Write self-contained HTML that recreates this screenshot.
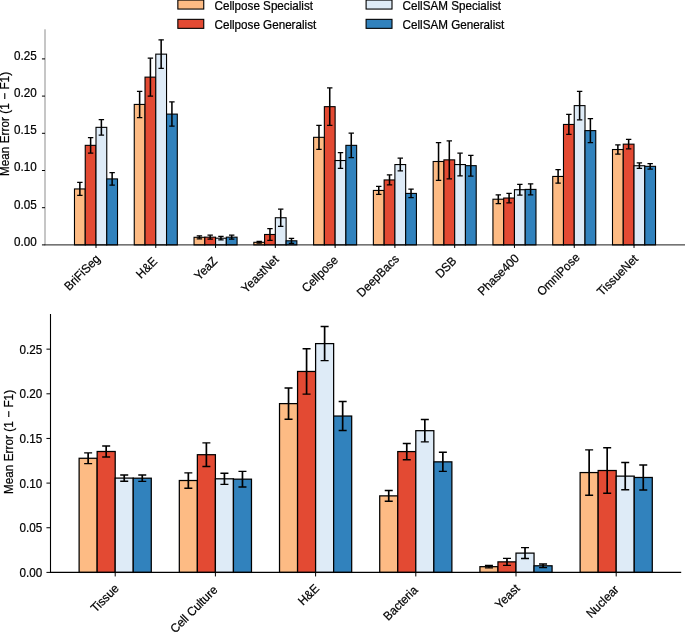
<!DOCTYPE html>
<html><head><meta charset="utf-8"><title>Mean Error</title>
<style>
html,body{margin:0;padding:0;background:#fff;}
svg{display:block;}
text{font-family:"Liberation Sans",sans-serif;font-size:11.67px;fill:#000;stroke:#000;stroke-width:0.22px;}
</style></head><body>
<svg width="685" height="632" viewBox="0 0 685 632">
<rect x="0" y="0" width="685" height="632" fill="#fff"/>
<rect x="74.48" y="188.95" width="10.76" height="55.95" fill="#fdbb84" stroke="#000" stroke-width="1.1"/>
<rect x="85.24" y="145.35" width="10.76" height="99.55" fill="#e34a33" stroke="#000" stroke-width="1.1"/>
<rect x="96.00" y="127.35" width="10.76" height="117.55" fill="#deebf7" stroke="#000" stroke-width="1.1"/>
<rect x="106.76" y="178.91" width="10.76" height="65.99" fill="#3182bd" stroke="#000" stroke-width="1.1"/>
<rect x="134.26" y="104.43" width="10.76" height="140.47" fill="#fdbb84" stroke="#000" stroke-width="1.1"/>
<rect x="145.02" y="77.13" width="10.76" height="167.77" fill="#e34a33" stroke="#000" stroke-width="1.1"/>
<rect x="155.78" y="54.14" width="10.76" height="190.76" fill="#deebf7" stroke="#000" stroke-width="1.1"/>
<rect x="166.54" y="114.10" width="10.76" height="130.80" fill="#3182bd" stroke="#000" stroke-width="1.1"/>
<rect x="194.04" y="237.31" width="10.76" height="7.59" fill="#fdbb84" stroke="#000" stroke-width="1.1"/>
<rect x="204.80" y="237.16" width="10.76" height="7.74" fill="#e34a33" stroke="#000" stroke-width="1.1"/>
<rect x="215.56" y="238.20" width="10.76" height="6.70" fill="#deebf7" stroke="#000" stroke-width="1.1"/>
<rect x="226.32" y="237.16" width="10.76" height="7.74" fill="#3182bd" stroke="#000" stroke-width="1.1"/>
<rect x="253.82" y="242.30" width="10.76" height="2.60" fill="#fdbb84" stroke="#000" stroke-width="1.1"/>
<rect x="264.58" y="234.48" width="10.76" height="10.42" fill="#e34a33" stroke="#000" stroke-width="1.1"/>
<rect x="275.34" y="217.74" width="10.76" height="27.16" fill="#deebf7" stroke="#000" stroke-width="1.1"/>
<rect x="286.10" y="240.81" width="10.76" height="4.09" fill="#3182bd" stroke="#000" stroke-width="1.1"/>
<rect x="313.60" y="137.32" width="10.76" height="107.58" fill="#fdbb84" stroke="#000" stroke-width="1.1"/>
<rect x="324.36" y="106.66" width="10.76" height="138.24" fill="#e34a33" stroke="#000" stroke-width="1.1"/>
<rect x="335.12" y="160.53" width="10.76" height="84.37" fill="#deebf7" stroke="#000" stroke-width="1.1"/>
<rect x="345.88" y="145.35" width="10.76" height="99.55" fill="#3182bd" stroke="#000" stroke-width="1.1"/>
<rect x="373.38" y="190.44" width="10.76" height="54.46" fill="#fdbb84" stroke="#000" stroke-width="1.1"/>
<rect x="384.14" y="179.95" width="10.76" height="64.95" fill="#e34a33" stroke="#000" stroke-width="1.1"/>
<rect x="394.90" y="164.55" width="10.76" height="80.35" fill="#deebf7" stroke="#000" stroke-width="1.1"/>
<rect x="405.66" y="193.42" width="10.76" height="51.48" fill="#3182bd" stroke="#000" stroke-width="1.1"/>
<rect x="433.16" y="161.50" width="10.76" height="83.40" fill="#fdbb84" stroke="#000" stroke-width="1.1"/>
<rect x="443.92" y="159.86" width="10.76" height="85.04" fill="#e34a33" stroke="#000" stroke-width="1.1"/>
<rect x="454.68" y="164.55" width="10.76" height="80.35" fill="#deebf7" stroke="#000" stroke-width="1.1"/>
<rect x="465.44" y="165.66" width="10.76" height="79.24" fill="#3182bd" stroke="#000" stroke-width="1.1"/>
<rect x="492.94" y="199.22" width="10.76" height="45.68" fill="#fdbb84" stroke="#000" stroke-width="1.1"/>
<rect x="503.70" y="198.03" width="10.76" height="46.87" fill="#e34a33" stroke="#000" stroke-width="1.1"/>
<rect x="514.46" y="189.70" width="10.76" height="55.20" fill="#deebf7" stroke="#000" stroke-width="1.1"/>
<rect x="525.22" y="189.40" width="10.76" height="55.50" fill="#3182bd" stroke="#000" stroke-width="1.1"/>
<rect x="552.72" y="176.45" width="10.76" height="68.45" fill="#fdbb84" stroke="#000" stroke-width="1.1"/>
<rect x="563.48" y="124.45" width="10.76" height="120.45" fill="#e34a33" stroke="#000" stroke-width="1.1"/>
<rect x="574.24" y="105.62" width="10.76" height="139.28" fill="#deebf7" stroke="#000" stroke-width="1.1"/>
<rect x="585.00" y="130.62" width="10.76" height="114.28" fill="#3182bd" stroke="#000" stroke-width="1.1"/>
<rect x="612.50" y="149.52" width="10.76" height="95.38" fill="#fdbb84" stroke="#000" stroke-width="1.1"/>
<rect x="623.26" y="144.16" width="10.76" height="100.74" fill="#e34a33" stroke="#000" stroke-width="1.1"/>
<rect x="634.02" y="165.74" width="10.76" height="79.16" fill="#deebf7" stroke="#000" stroke-width="1.1"/>
<rect x="644.78" y="166.33" width="10.76" height="78.57" fill="#3182bd" stroke="#000" stroke-width="1.1"/>
<path d="M79.86 182.48V195.42" stroke="#000" stroke-width="1.55" fill="none"/>
<path d="M77.16 182.48H82.56M77.16 195.42H82.56" stroke="#000" stroke-width="1.25" fill="none"/>
<path d="M90.62 137.69V153.02" stroke="#000" stroke-width="1.55" fill="none"/>
<path d="M87.92 137.69H93.32M87.92 153.02H93.32" stroke="#000" stroke-width="1.25" fill="none"/>
<path d="M101.38 119.68V135.01" stroke="#000" stroke-width="1.55" fill="none"/>
<path d="M98.68 119.68H104.08M98.68 135.01H104.08" stroke="#000" stroke-width="1.25" fill="none"/>
<path d="M112.14 172.58V185.23" stroke="#000" stroke-width="1.55" fill="none"/>
<path d="M109.44 172.58H114.84M109.44 185.23H114.84" stroke="#000" stroke-width="1.25" fill="none"/>
<path d="M139.64 91.26V117.60" stroke="#000" stroke-width="1.55" fill="none"/>
<path d="M136.94 91.26H142.34M136.94 117.60H142.34" stroke="#000" stroke-width="1.25" fill="none"/>
<path d="M150.40 58.16V96.10" stroke="#000" stroke-width="1.55" fill="none"/>
<path d="M147.70 58.16H153.10M147.70 96.10H153.10" stroke="#000" stroke-width="1.25" fill="none"/>
<path d="M161.16 39.85V68.42" stroke="#000" stroke-width="1.55" fill="none"/>
<path d="M158.46 39.85H163.86M158.46 68.42H163.86" stroke="#000" stroke-width="1.25" fill="none"/>
<path d="M171.92 101.98V126.23" stroke="#000" stroke-width="1.55" fill="none"/>
<path d="M169.22 101.98H174.62M169.22 126.23H174.62" stroke="#000" stroke-width="1.25" fill="none"/>
<path d="M199.42 235.82V238.80" stroke="#000" stroke-width="1.55" fill="none"/>
<path d="M196.72 235.82H202.12M196.72 238.80H202.12" stroke="#000" stroke-width="1.25" fill="none"/>
<path d="M210.18 235.23V239.10" stroke="#000" stroke-width="1.55" fill="none"/>
<path d="M207.48 235.23H212.88M207.48 239.10H212.88" stroke="#000" stroke-width="1.25" fill="none"/>
<path d="M220.94 236.42V239.99" stroke="#000" stroke-width="1.55" fill="none"/>
<path d="M218.24 236.42H223.64M218.24 239.99H223.64" stroke="#000" stroke-width="1.25" fill="none"/>
<path d="M231.70 235.15V239.17" stroke="#000" stroke-width="1.55" fill="none"/>
<path d="M229.00 235.15H234.40M229.00 239.17H234.40" stroke="#000" stroke-width="1.25" fill="none"/>
<path d="M259.20 241.48V243.11" stroke="#000" stroke-width="1.55" fill="none"/>
<path d="M256.50 241.48H261.90M256.50 243.11H261.90" stroke="#000" stroke-width="1.25" fill="none"/>
<path d="M269.96 228.61V240.36" stroke="#000" stroke-width="1.55" fill="none"/>
<path d="M267.26 228.61H272.66M267.26 240.36H272.66" stroke="#000" stroke-width="1.25" fill="none"/>
<path d="M280.72 209.19V226.30" stroke="#000" stroke-width="1.55" fill="none"/>
<path d="M278.02 209.19H283.42M278.02 226.30H283.42" stroke="#000" stroke-width="1.25" fill="none"/>
<path d="M291.48 238.28V243.34" stroke="#000" stroke-width="1.55" fill="none"/>
<path d="M288.78 238.28H294.18M288.78 243.34H294.18" stroke="#000" stroke-width="1.25" fill="none"/>
<path d="M318.98 125.26V149.37" stroke="#000" stroke-width="1.55" fill="none"/>
<path d="M316.28 125.26H321.68M316.28 149.37H321.68" stroke="#000" stroke-width="1.25" fill="none"/>
<path d="M329.74 87.99V125.34" stroke="#000" stroke-width="1.55" fill="none"/>
<path d="M327.04 87.99H332.44M327.04 125.34H332.44" stroke="#000" stroke-width="1.25" fill="none"/>
<path d="M340.50 152.64V168.42" stroke="#000" stroke-width="1.55" fill="none"/>
<path d="M337.80 152.64H343.20M337.80 168.42H343.20" stroke="#000" stroke-width="1.25" fill="none"/>
<path d="M351.26 133.08V157.63" stroke="#000" stroke-width="1.55" fill="none"/>
<path d="M348.56 133.08H353.96M348.56 157.63H353.96" stroke="#000" stroke-width="1.25" fill="none"/>
<path d="M378.76 186.42V194.46" stroke="#000" stroke-width="1.55" fill="none"/>
<path d="M376.06 186.42H381.46M376.06 194.46H381.46" stroke="#000" stroke-width="1.25" fill="none"/>
<path d="M389.52 174.96V184.93" stroke="#000" stroke-width="1.55" fill="none"/>
<path d="M386.82 174.96H392.22M386.82 184.93H392.22" stroke="#000" stroke-width="1.25" fill="none"/>
<path d="M400.28 158.15V170.95" stroke="#000" stroke-width="1.55" fill="none"/>
<path d="M397.58 158.15H402.98M397.58 170.95H402.98" stroke="#000" stroke-width="1.25" fill="none"/>
<path d="M411.04 189.10V197.73" stroke="#000" stroke-width="1.55" fill="none"/>
<path d="M408.34 189.10H413.74M408.34 197.73H413.74" stroke="#000" stroke-width="1.25" fill="none"/>
<path d="M438.54 142.53V180.47" stroke="#000" stroke-width="1.55" fill="none"/>
<path d="M435.84 142.53H441.24M435.84 180.47H441.24" stroke="#000" stroke-width="1.25" fill="none"/>
<path d="M449.30 140.96V178.76" stroke="#000" stroke-width="1.55" fill="none"/>
<path d="M446.60 140.96H452.00M446.60 178.76H452.00" stroke="#000" stroke-width="1.25" fill="none"/>
<path d="M460.06 153.16V175.93" stroke="#000" stroke-width="1.55" fill="none"/>
<path d="M457.36 153.16H462.76M457.36 175.93H462.76" stroke="#000" stroke-width="1.25" fill="none"/>
<path d="M470.82 155.25V176.08" stroke="#000" stroke-width="1.55" fill="none"/>
<path d="M468.12 155.25H473.52M468.12 176.08H473.52" stroke="#000" stroke-width="1.25" fill="none"/>
<path d="M498.32 194.83V203.61" stroke="#000" stroke-width="1.55" fill="none"/>
<path d="M495.62 194.83H501.02M495.62 203.61H501.02" stroke="#000" stroke-width="1.25" fill="none"/>
<path d="M509.08 193.27V202.79" stroke="#000" stroke-width="1.55" fill="none"/>
<path d="M506.38 193.27H511.78M506.38 202.79H511.78" stroke="#000" stroke-width="1.25" fill="none"/>
<path d="M519.84 184.34V195.05" stroke="#000" stroke-width="1.55" fill="none"/>
<path d="M517.14 184.34H522.54M517.14 195.05H522.54" stroke="#000" stroke-width="1.25" fill="none"/>
<path d="M530.60 183.82V194.98" stroke="#000" stroke-width="1.55" fill="none"/>
<path d="M527.90 183.82H533.30M527.90 194.98H533.30" stroke="#000" stroke-width="1.25" fill="none"/>
<path d="M558.10 169.68V183.22" stroke="#000" stroke-width="1.55" fill="none"/>
<path d="M555.40 169.68H560.80M555.40 183.22H560.80" stroke="#000" stroke-width="1.25" fill="none"/>
<path d="M568.86 114.48V134.42" stroke="#000" stroke-width="1.55" fill="none"/>
<path d="M566.16 114.48H571.56M566.16 134.42H571.56" stroke="#000" stroke-width="1.25" fill="none"/>
<path d="M579.62 91.49V119.76" stroke="#000" stroke-width="1.55" fill="none"/>
<path d="M576.92 91.49H582.32M576.92 119.76H582.32" stroke="#000" stroke-width="1.25" fill="none"/>
<path d="M590.38 118.64V142.60" stroke="#000" stroke-width="1.55" fill="none"/>
<path d="M587.68 118.64H593.08M587.68 142.60H593.08" stroke="#000" stroke-width="1.25" fill="none"/>
<path d="M617.88 144.98V154.06" stroke="#000" stroke-width="1.55" fill="none"/>
<path d="M615.18 144.98H620.58M615.18 154.06H620.58" stroke="#000" stroke-width="1.25" fill="none"/>
<path d="M628.64 139.48V148.85" stroke="#000" stroke-width="1.55" fill="none"/>
<path d="M625.94 139.48H631.34M625.94 148.85H631.34" stroke="#000" stroke-width="1.25" fill="none"/>
<path d="M639.40 162.99V168.49" stroke="#000" stroke-width="1.55" fill="none"/>
<path d="M636.70 162.99H642.10M636.70 168.49H642.10" stroke="#000" stroke-width="1.25" fill="none"/>
<path d="M650.16 163.66V169.01" stroke="#000" stroke-width="1.55" fill="none"/>
<path d="M647.46 163.66H652.86M647.46 169.01H652.86" stroke="#000" stroke-width="1.25" fill="none"/>
<path d="M45.00 29.30V245.35" stroke="#000" stroke-width="0.45" fill="none"/>
<path d="M44.77 244.90H685.00" stroke="#000" stroke-width="0.9" fill="none"/>
<path d="M45.00 244.90h-3.05" stroke="#000" stroke-width="1.0"/>
<text transform="translate(36.80 246.00) scale(1 1.05)" text-anchor="end">0.00</text>
<path d="M45.00 207.70h-3.05" stroke="#000" stroke-width="1.0"/>
<text transform="translate(36.80 209.00) scale(1 1.05)" text-anchor="end">0.05</text>
<path d="M45.00 170.50h-3.05" stroke="#000" stroke-width="1.0"/>
<text transform="translate(36.80 171.00) scale(1 1.05)" text-anchor="end">0.10</text>
<path d="M45.00 133.30h-3.05" stroke="#000" stroke-width="1.0"/>
<text transform="translate(36.80 134.00) scale(1 1.05)" text-anchor="end">0.15</text>
<path d="M45.00 96.10h-3.05" stroke="#000" stroke-width="1.0"/>
<text transform="translate(36.80 97.00) scale(1 1.05)" text-anchor="end">0.20</text>
<path d="M45.00 58.90h-3.05" stroke="#000" stroke-width="1.0"/>
<text transform="translate(36.80 60.00) scale(1 1.05)" text-anchor="end">0.25</text>
<path d="M96.00 244.90v3.05" stroke="#000" stroke-width="1.0"/>
<text transform="translate(96.00 252.50) rotate(-45) scale(1 1.05)" text-anchor="end" y="8.05" x="-1.60">BriFiSeg</text>
<path d="M155.78 244.90v3.05" stroke="#000" stroke-width="1.0"/>
<text transform="translate(155.78 252.50) rotate(-45) scale(1 1.05)" text-anchor="end" y="8.05" x="-5.30">H&amp;E</text>
<path d="M215.56 244.90v3.05" stroke="#000" stroke-width="1.0"/>
<text transform="translate(215.56 252.50) rotate(-45) scale(1 1.05)" text-anchor="end" y="8.05" x="-4.80">YeaZ</text>
<path d="M275.34 244.90v3.05" stroke="#000" stroke-width="1.0"/>
<text transform="translate(275.34 252.50) rotate(-45) scale(1 1.05)" text-anchor="end" y="8.05" x="-2.60">YeastNet</text>
<path d="M335.12 244.90v3.05" stroke="#000" stroke-width="1.0"/>
<text transform="translate(335.12 252.50) rotate(-45) scale(1 1.05)" text-anchor="end" y="8.05" x="-3.30">Cellpose</text>
<path d="M394.90 244.90v3.05" stroke="#000" stroke-width="1.0"/>
<text transform="translate(394.90 252.50) rotate(-45) scale(1 1.05)" text-anchor="end" y="8.05" x="-1.60">DeepBacs</text>
<path d="M454.68 244.90v3.05" stroke="#000" stroke-width="1.0"/>
<text transform="translate(454.68 252.50) rotate(-45) scale(1 1.05)" text-anchor="end" y="8.05" x="-4.70">DSB</text>
<path d="M514.46 244.90v3.05" stroke="#000" stroke-width="1.0"/>
<text transform="translate(514.46 252.50) rotate(-45) scale(1 1.05)" text-anchor="end" y="8.05" x="-0.80">Phase400</text>
<path d="M574.24 244.90v3.05" stroke="#000" stroke-width="1.0"/>
<text transform="translate(574.24 252.50) rotate(-45) scale(1 1.05)" text-anchor="end" y="8.05" x="0.50">OmniPose</text>
<path d="M634.02 244.90v3.05" stroke="#000" stroke-width="1.0"/>
<text transform="translate(634.02 252.50) rotate(-45) scale(1 1.05)" text-anchor="end" y="8.05" x="-1.60">TissueNet</text>
<text letter-spacing="0.08" transform="translate(9.00 124.00) rotate(-90) scale(1 1.05)" text-anchor="middle">Mean Error (1 − F1)</text>
<rect x="79.12" y="458.27" width="18.04" height="114.13" fill="#fdbb84" stroke="#000" stroke-width="1.25"/>
<rect x="97.16" y="451.49" width="18.04" height="120.91" fill="#e34a33" stroke="#000" stroke-width="1.25"/>
<rect x="115.20" y="478.10" width="18.04" height="94.30" fill="#deebf7" stroke="#000" stroke-width="1.25"/>
<rect x="133.24" y="478.19" width="18.04" height="94.21" fill="#3182bd" stroke="#000" stroke-width="1.25"/>
<rect x="179.32" y="480.51" width="18.04" height="91.89" fill="#fdbb84" stroke="#000" stroke-width="1.25"/>
<rect x="197.36" y="454.70" width="18.04" height="117.70" fill="#e34a33" stroke="#000" stroke-width="1.25"/>
<rect x="215.40" y="478.81" width="18.04" height="93.59" fill="#deebf7" stroke="#000" stroke-width="1.25"/>
<rect x="233.44" y="479.17" width="18.04" height="93.23" fill="#3182bd" stroke="#000" stroke-width="1.25"/>
<rect x="279.52" y="403.62" width="18.04" height="168.78" fill="#fdbb84" stroke="#000" stroke-width="1.25"/>
<rect x="297.56" y="371.47" width="18.04" height="200.93" fill="#e34a33" stroke="#000" stroke-width="1.25"/>
<rect x="315.60" y="343.61" width="18.04" height="228.79" fill="#deebf7" stroke="#000" stroke-width="1.25"/>
<rect x="333.64" y="416.04" width="18.04" height="156.36" fill="#3182bd" stroke="#000" stroke-width="1.25"/>
<rect x="379.72" y="495.87" width="18.04" height="76.53" fill="#fdbb84" stroke="#000" stroke-width="1.25"/>
<rect x="397.76" y="451.58" width="18.04" height="120.82" fill="#e34a33" stroke="#000" stroke-width="1.25"/>
<rect x="415.80" y="430.68" width="18.04" height="141.72" fill="#deebf7" stroke="#000" stroke-width="1.25"/>
<rect x="433.84" y="461.85" width="18.04" height="110.55" fill="#3182bd" stroke="#000" stroke-width="1.25"/>
<rect x="479.92" y="566.68" width="18.04" height="5.72" fill="#fdbb84" stroke="#000" stroke-width="1.25"/>
<rect x="497.96" y="561.86" width="18.04" height="10.54" fill="#e34a33" stroke="#000" stroke-width="1.25"/>
<rect x="516.00" y="553.11" width="18.04" height="19.29" fill="#deebf7" stroke="#000" stroke-width="1.25"/>
<rect x="534.04" y="565.79" width="18.04" height="6.61" fill="#3182bd" stroke="#000" stroke-width="1.25"/>
<rect x="580.12" y="472.56" width="18.04" height="99.84" fill="#fdbb84" stroke="#000" stroke-width="1.25"/>
<rect x="598.16" y="470.51" width="18.04" height="101.89" fill="#e34a33" stroke="#000" stroke-width="1.25"/>
<rect x="616.20" y="476.13" width="18.04" height="96.27" fill="#deebf7" stroke="#000" stroke-width="1.25"/>
<rect x="634.24" y="477.47" width="18.04" height="94.93" fill="#3182bd" stroke="#000" stroke-width="1.25"/>
<path d="M88.14 452.92V463.63" stroke="#000" stroke-width="1.7" fill="none"/>
<path d="M84.14 452.92H92.14M84.14 463.63H92.14" stroke="#000" stroke-width="1.4" fill="none"/>
<path d="M106.18 445.95V457.02" stroke="#000" stroke-width="1.7" fill="none"/>
<path d="M102.18 445.95H110.18M102.18 457.02H110.18" stroke="#000" stroke-width="1.4" fill="none"/>
<path d="M124.22 474.97V481.22" stroke="#000" stroke-width="1.7" fill="none"/>
<path d="M120.22 474.97H128.22M120.22 481.22H128.22" stroke="#000" stroke-width="1.4" fill="none"/>
<path d="M142.26 474.97V481.40" stroke="#000" stroke-width="1.7" fill="none"/>
<path d="M138.26 474.97H146.26M138.26 481.40H146.26" stroke="#000" stroke-width="1.4" fill="none"/>
<path d="M188.34 472.83V488.19" stroke="#000" stroke-width="1.7" fill="none"/>
<path d="M184.34 472.83H192.34M184.34 488.19H192.34" stroke="#000" stroke-width="1.4" fill="none"/>
<path d="M206.38 442.91V466.49" stroke="#000" stroke-width="1.7" fill="none"/>
<path d="M202.38 442.91H210.38M202.38 466.49H210.38" stroke="#000" stroke-width="1.4" fill="none"/>
<path d="M224.42 473.28V484.35" stroke="#000" stroke-width="1.7" fill="none"/>
<path d="M220.42 473.28H228.42M220.42 484.35H228.42" stroke="#000" stroke-width="1.4" fill="none"/>
<path d="M242.46 471.40V486.94" stroke="#000" stroke-width="1.7" fill="none"/>
<path d="M238.46 471.40H246.46M238.46 486.94H246.46" stroke="#000" stroke-width="1.4" fill="none"/>
<path d="M288.54 388.00V419.25" stroke="#000" stroke-width="1.7" fill="none"/>
<path d="M284.54 388.00H292.54M284.54 419.25H292.54" stroke="#000" stroke-width="1.4" fill="none"/>
<path d="M306.58 348.79V394.16" stroke="#000" stroke-width="1.7" fill="none"/>
<path d="M302.58 348.79H310.58M302.58 394.16H310.58" stroke="#000" stroke-width="1.4" fill="none"/>
<path d="M324.62 326.56V360.67" stroke="#000" stroke-width="1.7" fill="none"/>
<path d="M320.62 326.56H328.62M320.62 360.67H328.62" stroke="#000" stroke-width="1.4" fill="none"/>
<path d="M342.66 401.57V430.50" stroke="#000" stroke-width="1.7" fill="none"/>
<path d="M338.66 401.57H346.66M338.66 430.50H346.66" stroke="#000" stroke-width="1.4" fill="none"/>
<path d="M388.74 490.51V501.23" stroke="#000" stroke-width="1.7" fill="none"/>
<path d="M384.74 490.51H392.74M384.74 501.23H392.74" stroke="#000" stroke-width="1.4" fill="none"/>
<path d="M406.78 443.45V459.70" stroke="#000" stroke-width="1.7" fill="none"/>
<path d="M402.78 443.45H410.78M402.78 459.70H410.78" stroke="#000" stroke-width="1.4" fill="none"/>
<path d="M424.82 419.52V441.84" stroke="#000" stroke-width="1.7" fill="none"/>
<path d="M420.82 419.52H428.82M420.82 441.84H428.82" stroke="#000" stroke-width="1.4" fill="none"/>
<path d="M442.86 452.29V471.40" stroke="#000" stroke-width="1.7" fill="none"/>
<path d="M438.86 452.29H446.86M438.86 471.40H446.86" stroke="#000" stroke-width="1.4" fill="none"/>
<path d="M488.94 565.52V567.85" stroke="#000" stroke-width="1.7" fill="none"/>
<path d="M484.94 565.52H492.94M484.94 567.85H492.94" stroke="#000" stroke-width="1.4" fill="none"/>
<path d="M506.98 558.38V565.35" stroke="#000" stroke-width="1.7" fill="none"/>
<path d="M502.98 558.38H510.98M502.98 565.35H510.98" stroke="#000" stroke-width="1.4" fill="none"/>
<path d="M525.02 547.66V558.56" stroke="#000" stroke-width="1.7" fill="none"/>
<path d="M521.02 547.66H529.02M521.02 558.56H529.02" stroke="#000" stroke-width="1.4" fill="none"/>
<path d="M543.06 564.01V567.58" stroke="#000" stroke-width="1.7" fill="none"/>
<path d="M539.06 564.01H547.06M539.06 567.58H547.06" stroke="#000" stroke-width="1.4" fill="none"/>
<path d="M589.14 449.88V495.24" stroke="#000" stroke-width="1.7" fill="none"/>
<path d="M585.14 449.88H593.14M585.14 495.24H593.14" stroke="#000" stroke-width="1.4" fill="none"/>
<path d="M607.18 447.74V493.28" stroke="#000" stroke-width="1.7" fill="none"/>
<path d="M603.18 447.74H611.18M603.18 493.28H611.18" stroke="#000" stroke-width="1.4" fill="none"/>
<path d="M625.22 462.56V489.71" stroke="#000" stroke-width="1.7" fill="none"/>
<path d="M621.22 462.56H629.22M621.22 489.71H629.22" stroke="#000" stroke-width="1.4" fill="none"/>
<path d="M643.26 464.97V489.98" stroke="#000" stroke-width="1.7" fill="none"/>
<path d="M639.26 464.97H647.26M639.26 489.98H647.26" stroke="#000" stroke-width="1.4" fill="none"/>
<path d="M50.50 314.00V572.95" stroke="#000" stroke-width="1.1" fill="none"/>
<path d="M49.95 572.40H681.20" stroke="#000" stroke-width="1.1" fill="none"/>
<path d="M50.50 572.40h-4.05" stroke="#000" stroke-width="1.0"/>
<text transform="translate(42.30 577.00) scale(1 1.05)" text-anchor="end">0.00</text>
<path d="M50.50 527.75h-4.05" stroke="#000" stroke-width="1.0"/>
<text transform="translate(42.30 532.00) scale(1 1.05)" text-anchor="end">0.05</text>
<path d="M50.50 483.10h-4.05" stroke="#000" stroke-width="1.0"/>
<text transform="translate(42.30 488.00) scale(1 1.05)" text-anchor="end">0.10</text>
<path d="M50.50 438.45h-4.05" stroke="#000" stroke-width="1.0"/>
<text transform="translate(42.30 443.00) scale(1 1.05)" text-anchor="end">0.15</text>
<path d="M50.50 393.80h-4.05" stroke="#000" stroke-width="1.0"/>
<text transform="translate(42.30 398.00) scale(1 1.05)" text-anchor="end">0.20</text>
<path d="M50.50 349.15h-4.05" stroke="#000" stroke-width="1.0"/>
<text transform="translate(42.30 354.00) scale(1 1.05)" text-anchor="end">0.25</text>
<path d="M115.20 572.40v4.05" stroke="#000" stroke-width="1.0"/>
<text transform="translate(115.20 581.60) rotate(-45) scale(1 1.05)" text-anchor="end" y="8.05" x="-2.20">Tissue</text>
<path d="M215.40 572.40v4.05" stroke="#000" stroke-width="1.0"/>
<text transform="translate(215.40 581.60) rotate(-45) scale(1 1.05)" text-anchor="end" y="8.05" x="-4.40">Cell Culture</text>
<path d="M315.60 572.40v4.05" stroke="#000" stroke-width="1.0"/>
<text transform="translate(315.60 581.60) rotate(-45) scale(1 1.05)" text-anchor="end" y="8.05" x="-2.20">H&amp;E</text>
<path d="M415.80 572.40v4.05" stroke="#000" stroke-width="1.0"/>
<text transform="translate(415.80 581.60) rotate(-45) scale(1 1.05)" text-anchor="end" y="8.05" x="-4.70">Bacteria</text>
<path d="M516.00 572.40v4.05" stroke="#000" stroke-width="1.0"/>
<text transform="translate(516.00 581.60) rotate(-45) scale(1 1.05)" text-anchor="end" y="8.05" x="-2.20">Yeast</text>
<path d="M616.20 572.40v4.05" stroke="#000" stroke-width="1.0"/>
<text transform="translate(616.20 581.60) rotate(-45) scale(1 1.05)" text-anchor="end" y="8.05" x="-3.70">Nuclear</text>
<text letter-spacing="0.08" transform="translate(13.40 442.00) rotate(-90) scale(1 1.05)" text-anchor="middle">Mean Error (1 − F1)</text>
<rect x="177.85" y="0.05" width="25.9" height="9.0" fill="#fdbb84" stroke="#000" stroke-width="1.1"/>
<text transform="translate(214.50 10.00) scale(1 1.05)">Cellpose Specialist</text>
<rect x="177.85" y="19.35" width="25.9" height="9.0" fill="#e34a33" stroke="#000" stroke-width="1.1"/>
<text transform="translate(214.50 29.00) scale(1 1.05)">Cellpose Generalist</text>
<rect x="366.1" y="0.05" width="25.9" height="9.0" fill="#deebf7" stroke="#000" stroke-width="1.1"/>
<text transform="translate(402.60 10.00) scale(1 1.05)">CellSAM Specialist</text>
<rect x="366.1" y="19.35" width="25.9" height="9.0" fill="#3182bd" stroke="#000" stroke-width="1.1"/>
<text transform="translate(402.60 29.00) scale(1 1.05)">CellSAM Generalist</text>
</svg>
</body></html>
